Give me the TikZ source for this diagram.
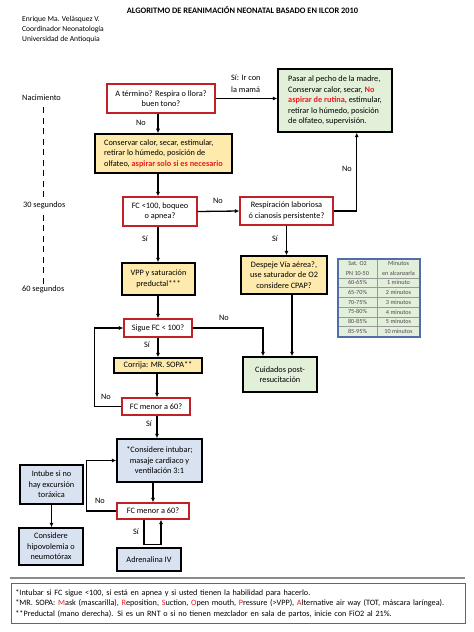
\documentclass[tikz,border=0pt]{standalone}
\usepackage{fontspec}
\setmainfont{Carlito}
\usepackage{tikz}
\usetikzlibrary{shapes, arrows.meta, positioning}
\definecolor{boxred}{RGB}{192,32,40}
\definecolor{txtred}{RGB}{232,30,36}
\definecolor{yelfill}{RGB}{253,234,172}
\definecolor{grnfill}{RGB}{226,239,217}
\definecolor{blufill}{RGB}{216,226,240}
\definecolor{tabgrn}{RGB}{226,239,218}
\definecolor{tabblue}{RGB}{79,110,170}
\newcommand{\rojo}[1]{\textcolor{txtred}{\bfseries #1}}
\newcommand{\letra}[1]{\textcolor{txtred}{#1}}

\begin{document}
\begin{tikzpicture}[x=1bp, y=-1bp, font=\fontsize{8.3}{10.6}\selectfont]
\tikzset{edge/.style = {-{Latex[length=4.5bp, width=4.2bp]}, line width=1.3bp}}
\tikzset{redbox/.style = {draw=boxred, line width=1.3bp, fill=white, align=center, inner sep=1bp}}
\tikzset{fillbox/.style = {draw=black, line width=1.5bp, align=center, inner sep=1bp}}
\tikzset{yelbox/.style = {fillbox, fill=yelfill}}
\tikzset{grnbox/.style = {fillbox, fill=grnfill}}
\tikzset{blubox/.style = {fillbox, fill=blufill}}
\tikzset{lbl/.style = {inner sep=0pt}}
\tikzset{tabtxt/.style = {inner sep=0pt, align=center, text=black!70, font=\fontsize{6.2}{10}\selectfont}}
\useasboundingbox (0,0) rectangle (474,632);
            % heading
	\node[lbl, font=\fontsize{8.4}{10}\selectfont\bfseries] (titulo) at (242.5,10) {ALGORITMO DE REANIMACIÓN NEONATAL BASADO EN ILCOR 2010};
	\node[lbl, anchor=north west, align=left, font=\fontsize{7.6}{10}\selectfont] (autor) at (22,16) {Enrique Ma. Velásquez V.\\Coordinador Neonatología\\Universidad de Antioquia};
            % time line
	\node[lbl, anchor=west] (nac) at (22,98) {Nacimiento};
	\node[lbl, anchor=west] (treinta) at (23,205) {30 segundos};
	\node[lbl, anchor=west] (sesenta) at (22,289) {60 segundos};
	\draw[line width=1.4bp, dash pattern=on 6bp off 4.5bp] ([xshift=2bp, yshift=-6bp]nac.south) -- ([xshift=2bp]nac.south |- treinta.north);
	\draw[line width=1.4bp, dash pattern=on 6bp off 4.5bp] ([xshift=-1bp, yshift=-6bp]treinta.south) -- ([xshift=-1bp]treinta.south |- sesenta.north);
            % vertices
	\coordinate (spine) at (158,0);
	\node[redbox, minimum width=108bp, minimum height=29bp] (a) at (161,98.5) {A término? Respira o llora?\\buen tono?};
	\node[grnbox, minimum width=114bp, minimum height=63bp, align=left] (madre) at (335,100.5) {Pasar al pecho de la madre,\\Conservar calor, secar, \rojo{No}\\\rojo{aspirar de rutina}, estimular,\\retirar lo húmedo, posición\\de olfateo, supervisión.};
	\node[yelbox, minimum width=137bp, minimum height=39bp, align=left] (cuidar) at (163.5,153.5) {Conservar calor, secar, estimular,\\retirar lo húmedo, posición de\\olfateo, \rojo{aspirar solo si es necesario}};
	\node[redbox, minimum width=74bp, minimum height=29bp] (fc) at (160,211.5) {FC <100, boqueo\\o apnea?};
	\node[redbox, minimum width=93bp, minimum height=28bp] (resp) at (286.5,211) {Respiración laboriosa\\ó cianosis persistente?};
	\node[yelbox, minimum width=73bp, minimum height=32bp] (vpp) at (158.5,279) {VPP y saturación\\preductal***};
	\node[yelbox, minimum width=86bp, minimum height=38bp] (despeje) at (284,275) {Despeje Vía aérea?,\\use saturador de O2\\considere CPAP?};
	\node[redbox, minimum width=68bp, minimum height=18bp] (sigue) at (158,328) {Sigue FC < 100?};
	\node[yelbox, minimum width=88bp, minimum height=15bp] (corrija) at (158,365.5) {Corrija: MR. SOPA**};
	\node[grnbox, minimum width=74bp, minimum height=35bp] (post) at (280,374.5) {Cuidados post-\\resucitación};
	\node[redbox, minimum width=68bp, minimum height=17bp] (fcsesenta) at (156,406.5) {FC menor a 60?};
	\node[blubox, minimum width=85bp, minimum height=43bp] (intubar) at (159.5,460.5) {*Considere intubar;\\masaje cardiaco y\\ventilación 3:1};
	\node[redbox, minimum width=72bp, minimum height=16bp] (fcotra) at (153,511) {FC menor a 60?};
	\node[blubox, minimum width=63bp, minimum height=39bp] (intube) at (51.5,484.5) {Intube si no\\hay excursión\\toráxica};
	\node[blubox, minimum width=64bp, minimum height=37bp] (hipo) at (51,546.5) {Considere\\hipovolemia o\\neumotórax};
	\node[blubox, minimum width=64bp, minimum height=23bp] (adrenalina) at (149,559.5) {Adrenalina IV};
            % saturation table
	\fill[tabgrn] (338,259) rectangle (420,337);
	\draw[black!40, line width=0.5bp] (377,259) -- (377,337);
	\draw[black!40, line width=0.5bp] (338,278) -- (420,278) (338,287.7) -- (420,287.7) (338,297.4) -- (420,297.4) (338,307.1) -- (420,307.1) (338,316.8) -- (420,316.8) (338,326.5) -- (420,326.5);
	\draw[tabblue, line width=1.2bp] (338,259) rectangle (420,337);
	\node[tabtxt] (sat) at (357.5,268.5) {Sat. O2\\PN 10-50};
	\node[tabtxt] (minutos) at (398.5,268.5) {Minutos\\en alcanzarla};
	\node[tabtxt] (sa) at (357.5,282.8) {60-65\%};
	\node[tabtxt] (ma) at (398.5,282.8) {1 minuto};
	\node[tabtxt] (sb) at (357.5,292.5) {65-70\%};
	\node[tabtxt] (mb) at (398.5,292.5) {2 minutos};
	\node[tabtxt] (sc) at (357.5,302.2) {70-75\%};
	\node[tabtxt] (mc) at (398.5,302.2) {3 minutos};
	\node[tabtxt] (sd) at (357.5,311.9) {75-80\%};
	\node[tabtxt] (md) at (398.5,311.9) {4 minutos};
	\node[tabtxt] (se) at (357.5,321.6) {80-85\%};
	\node[tabtxt] (me) at (398.5,321.6) {5 minutos};
	\node[tabtxt] (sf) at (357.5,331.3) {85-95\%};
	\node[tabtxt] (mf) at (398.5,331.3) {10 minutos};
            % edge labels
	\node[lbl, anchor=west, align=left, font=\fontsize{8.3}{12.5}\selectfont] (simama) at (231,83.5) {Sí: Ir con\\la mamá};
	\node[lbl] (noa) at (141,123) {No};
	\node[lbl] (nofc) at (218,201) {No};
	\node[lbl] (noresp) at (347,169) {No};
	\node[lbl] (sifc) at (145,239) {Sí};
	\node[lbl] (siresp) at (275,239) {Sí};
	\node[lbl] (nosigue) at (224,318) {No};
	\node[lbl] (sisigue) at (147,345) {Sí};
	\node[lbl] (nosesenta) at (106,397) {No};
	\node[lbl] (sisesenta) at (149,424) {Sí};
	\node[lbl] (nootra) at (100,501) {No};
	\node[lbl] (siotra) at (136,532) {Sí};
            %edges
	\draw[edge] (a.east) -- (a.east -| madre.west);
	\draw[edge] (a.south -| spine) -- (cuidar.north -| spine);
	\draw[edge] (cuidar.south -| spine) -- (fc.north -| spine);
	\draw[edge] (fc.east) -- (resp.west);
	\draw[edge] (resp.east) -| ([xshift=-36bp]madre.south east);
	\draw[edge] (fc.south -| spine) -- (vpp.north -| spine);
	\draw[edge] (resp.south) -- (resp.south |- despeje.north);
	\draw[edge] (vpp.south -| spine) -- (sigue.north -| spine);
	\draw[edge] (sigue.east) -| ([xshift=-17bp]post.north);
	\draw[edge] ([xshift=8bp]despeje.south) -- ([xshift=8bp]despeje.south |- post.north);
	\draw[edge] (sigue.south) -- (corrija.north);
	\draw[edge] ([xshift=-1bp]corrija.south) -- ([xshift=-1bp]corrija.south |- fcsesenta.north);
	\draw[edge] (fcsesenta.west) -- ++(-27,0) |- (sigue.west);
	\draw[edge] ([xshift=1bp]fcsesenta.south) -- ([xshift=1bp]fcsesenta.south |- intubar.north);
	\draw[edge] (intubar.south -| fcotra.north) -- (fcotra.north);
	\draw[edge] (fcotra.west) -- ++(-30,0) |- (intubar.west);
	\draw[edge] (intube.south) -- (intube.south |- hipo.north);
	\draw[edge] ([xshift=-9bp]fcotra.south) -- ++(0,25) -| ([xshift=8bp]fcotra.south);
            % notes
	\draw[black!45, line width=1.2bp] (10,578) -- (465,578);
	\node[draw=black!60, line width=0.8bp, anchor=north west, align=left, text width=446bp, inner xsep=4bp, inner ysep=3bp, minimum height=40bp, font=\fontsize{8.2}{10.4}\selectfont] (notas) at (11,583) {*Intubar si FC sigue <100, si está en apnea y si usted tienen la habilidad para hacerlo.\\**MR. SOPA: \letra{M}ask (mascarilla), \letra{R}eposition, \letra{S}uction, \letra{O}pen mouth, \letra{P}ressure (>VPP), \letra{A}lternative air way (TOT, máscara laríngea).\\***Preductal (mano derecha). Si es un RNT o si no tienen mezclador en sala de partos, inicie con FiO2 al 21\%.};
\end{tikzpicture}
\end{document}
